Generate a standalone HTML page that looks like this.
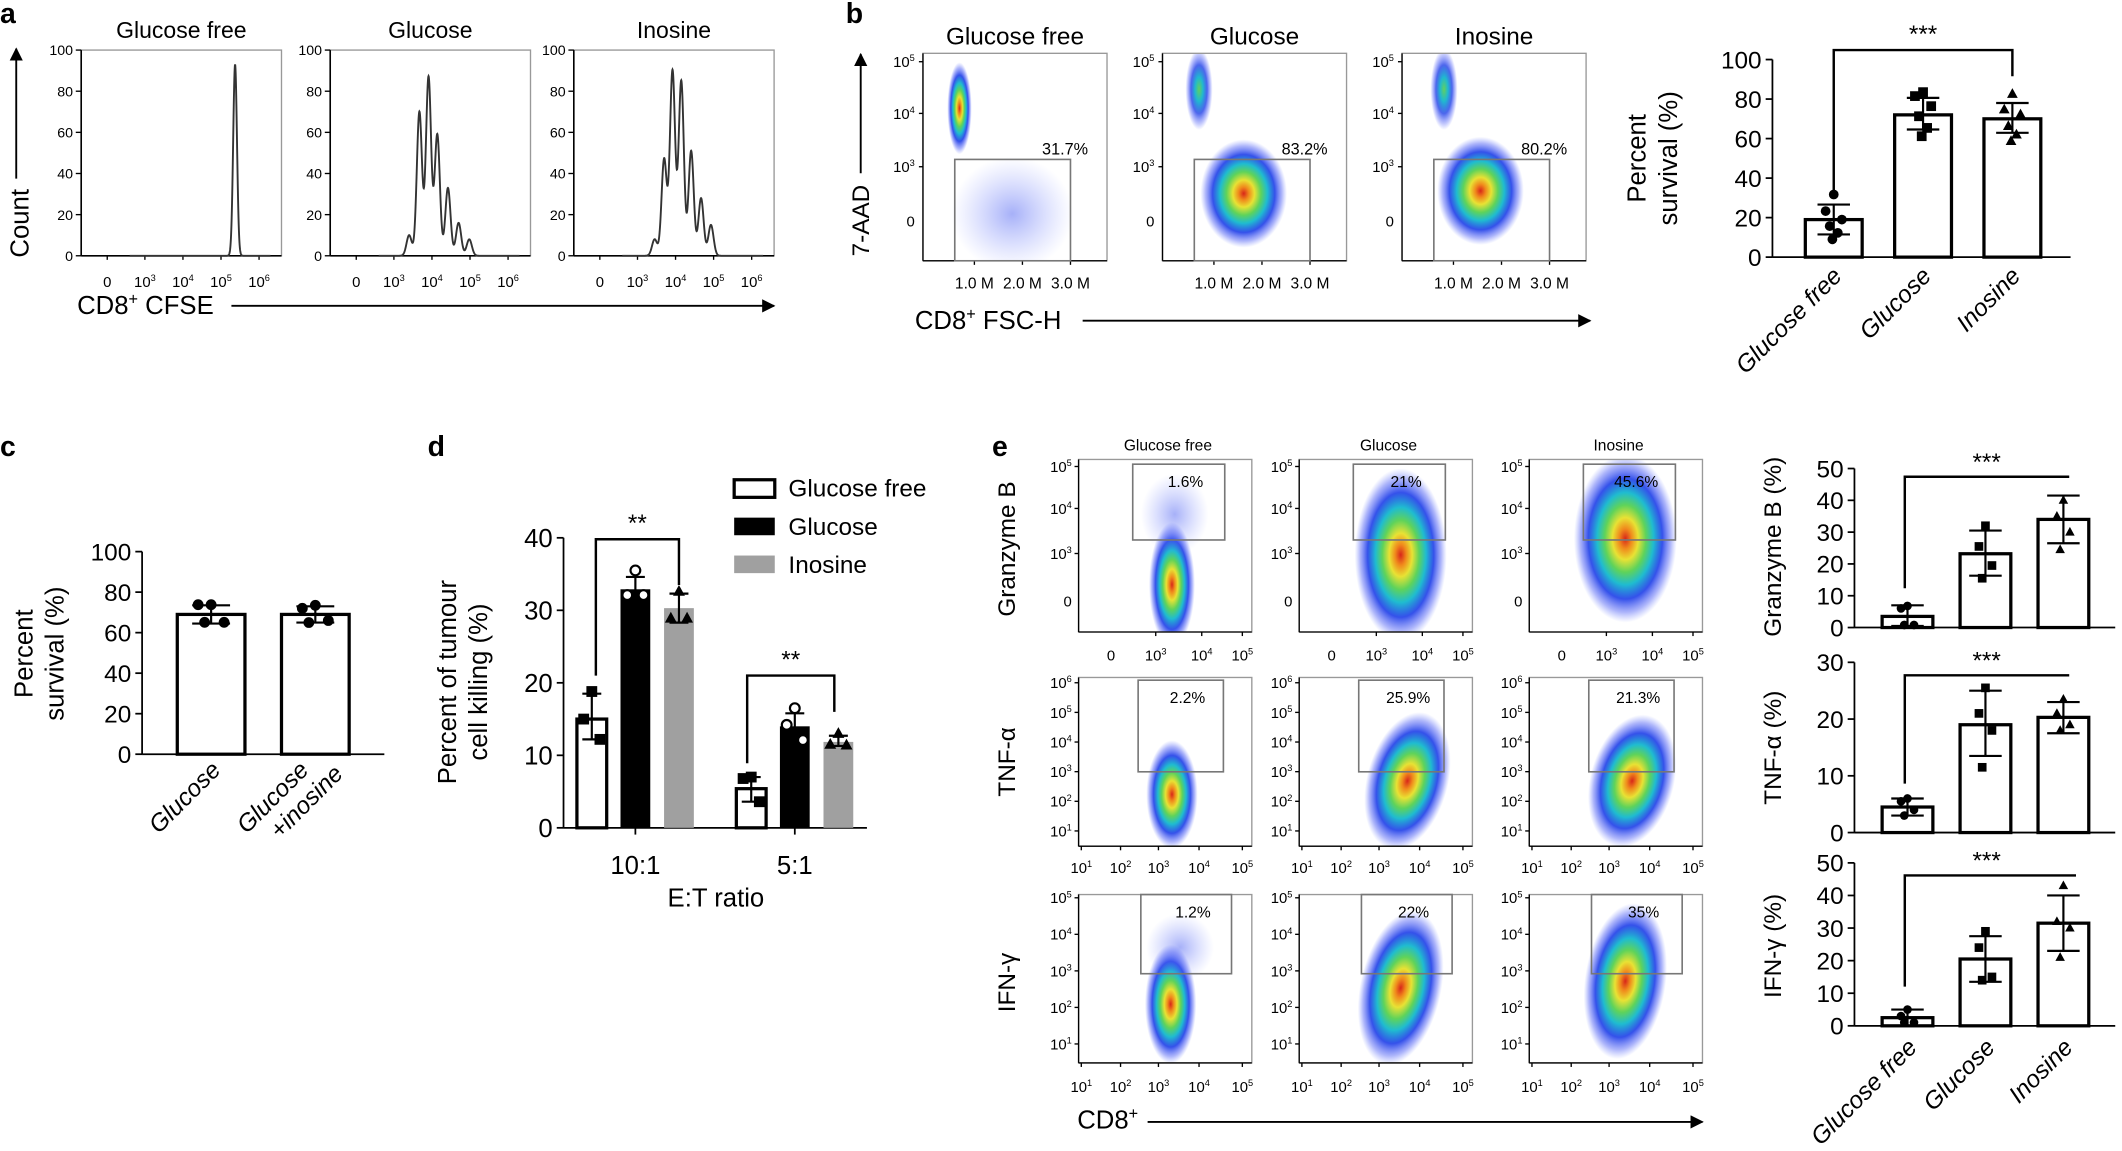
<!DOCTYPE html>
<html><head><meta charset="utf-8"><title>Figure</title>
<style>
html,body{margin:0;padding:0;background:#fff;}
svg{display:block;}
text{font-family:"Liberation Sans",sans-serif;fill:#000;}
</style></head>
<body>
<svg id="fig" xmlns="http://www.w3.org/2000/svg" width="2122" height="1151" viewBox="0 0 1568 850.5" preserveAspectRatio="none">
<defs>
<radialGradient id="heat"><stop offset="0" stop-color="#d8261a"/><stop offset="0.12" stop-color="#f08a1c"/><stop offset="0.25" stop-color="#e8e234"/><stop offset="0.4" stop-color="#5fd35a"/><stop offset="0.55" stop-color="#1fbcd0"/><stop offset="0.72" stop-color="#1e3ee8" stop-opacity="0.9"/><stop offset="0.88" stop-color="#4a5cf5" stop-opacity="0.45"/><stop offset="1" stop-color="#6a7cff" stop-opacity="0"/></radialGradient>
<radialGradient id="cool"><stop offset="0" stop-color="#60d060"/><stop offset="0.3" stop-color="#20b8d0"/><stop offset="0.6" stop-color="#2040e8" stop-opacity="0.8"/><stop offset="0.85" stop-color="#5060f8" stop-opacity="0.35"/><stop offset="1" stop-color="#6070ff" stop-opacity="0"/></radialGradient>
<radialGradient id="haze"><stop offset="0" stop-color="#3a50f0" stop-opacity="0.45"/><stop offset="1" stop-color="#6a7cff" stop-opacity="0"/></radialGradient>
<marker id="arrow" viewBox="0 0 10 10" refX="9" refY="5" markerWidth="7" markerHeight="7" orient="auto"><path d="M0,0 L10,5 L0,10 z" fill="#000"/></marker>
</defs>
</svg>
<script>
// ---------- DATA ----------
const histCats=['Glucose free','Glucose','Inosine'];
const histPeakPos=[[5.37],[3.4,3.67,3.91,4.14,4.42,4.7,4.98],[3.45,3.7,3.92,4.15,4.41,4.67,4.93]];
const histPeakHeight=[[93],[10,70,87,59,33,16,8],[8,47,90,85,51,28,15]];
const histPeakWidth=[0.05,0.068,0.068];
const histYTicks=[0,20,40,60,80,100];
const histXExps=[3,4,5,6];

const fscCats=['Glucose free','Glucose','Inosine'];
const fscGatePct=['31.7%','83.2%','80.2%'];
const fscXTicks=['1.0 M','2.0 M','3.0 M'];

const survCats=['Glucose free','Glucose','Inosine'];
const survMean=[19,72,70];
const survErrLo=[11.5,64.6,62.9];
const survErrHi=[26.6,80.6,78];
const survPts=[[31.7,23.3,19,15.7,12.3,9],[83.5,81.5,76.4,71.3,65.4,61.2],[82.6,74.7,72.2,66.3,62,58.7]];
const survTicks=[0,20,40,60,80,100];

const cCats=['Glucose','Glucose +inosine'];
const cMean=[69,69];
const cErrLo=[64.5,65];
const cErrHi=[73.5,73];
const cPts=[[73.8,73.8,65.1,65.1],[73.5,72,66,65]];
const cTicks=[0,20,40,60,80,100];

const dGroups=['10:1','5:1'];
const dSeries=['Glucose free','Glucose','Inosine'];
const dMean=[[15,32.9,30.3],[5.4,14,11.85]];
const dErrLo=[[12.2,31.2,28.3],[3.6,12.1,11.3]];
const dErrHi=[[18.5,34.6,32.3],[7,15.8,12.7]];
const dPts=[[[18.8,15,12.2],[35.5,32.1,32.1],[32.6,28.9,28.9]],[[7,6.8,3.6],[16.5,14.2,12.1],[13,11.5,11.4]]];
const dTicks=[0,10,20,30,40];

const eCats=['Glucose free','Glucose','Inosine'];
const eRows=['Granzyme B','TNF-α','IFN-γ'];
const eGatePct=[['1.6%','21%','45.6%'],['2.2%','25.9%','21.3%'],['1.2%','22%','35%']];
const eMax=[50,30,50];
const eTicks=[[0,10,20,30,40,50],[0,10,20,30],[0,10,20,30,40,50]];
const eMean=[[3.5,23.2,34],[4.5,19,20.3],[2.5,20.5,31.5]];
const eErrLo=[[0.5,16.3,26.5],[3,13.5,17.5],[0,13.5,23]];
const eErrHi=[[7,30.5,41.5],[6,25,23],[5,27.5,40]];
const ePts=[[[6.8,6,0.8,0.8],[32,25.5,19.5,15.5],[40,35,30,24.5]],[[6,5.5,4,3],[25.5,21,18,11.5],[23.5,21,19,18]],[[5,3,1,1],[29,24,15,14],[43,32,30,21]]];

// ---------- HELPERS ----------
const NS='http://www.w3.org/2000/svg';
const svg=document.getElementById('fig');
function mk(tag,attrs,parent){const e=document.createElementNS(NS,tag);for(const k in attrs)e.setAttribute(k,attrs[k]);(parent||svg).appendChild(e);return e;}
function txt(x,y,s,attrs,parent){const t=mk('text',Object.assign({x:x,y:y},attrs||{}),parent);t.textContent=s;return t;}
function grp(name,parent){const g=mk('g',{},parent);

return g;}
function pow(x,y,e,size,anchor,parent){const t=mk('text',{x:x,y:y,'font-size':size,'text-anchor':anchor||'middle'},parent);t.appendChild(document.createTextNode('10'));const s=mk('tspan',{dy:-size*0.4,'font-size':size*0.62},t);s.textContent=e;return t;}
function line(x1,y1,x2,y2,w,parent,col){return mk('line',{x1:x1,y1:y1,x2:x2,y2:y2,stroke:col||'#000','stroke-width':w},parent);}
function marker(type,x,y,r,parent,fill){let m;const f=fill||'#000';
 if(type==='circle')m=mk('circle',{cx:x,cy:y,r:r,fill:f,stroke:'#000','stroke-width':f==='#fff'?1.6:0},parent);
 else if(type==='square')m=mk('rect',{x:x-r,y:y-r,width:2*r,height:2*r,fill:f},parent);
 else m=mk('path',{d:`M${x},${y-r*1.2} L${x+r*1.1},${y+r*0.8} L${x-r*1.1},${y+r*0.8}Z`,fill:f},parent);
 return m;}
const jit=[0,-6,6,-3,3,-1];
let clipId=0;
function clipRect(L,T,W,H){const c=mk('clipPath',{id:'c'+(++clipId)},svg.querySelector('defs'));mk('rect',{x:L,y:T,width:W,height:H},c);return 'url(#c'+clipId+')';}
function blob(cx,cy,rx,ry,rot,g,parent,op){return mk('ellipse',{cx:cx,cy:cy,rx:rx,ry:ry,fill:'url(#'+g+')',opacity:op||1,transform:`rotate(${rot} ${cx} ${cy})`},parent);}
function rotLabel(x,y,lines,size,parent,gap){const t=mk('text',{transform:`translate(${x},${y}) rotate(-90)`,'text-anchor':'middle','font-size':size},parent);lines.forEach((s,i)=>{const sp=mk('tspan',{x:0,dy:i===0?0:gap},t);sp.textContent=s;});return t;}
function letter(x,y,s){const t=txt(x,y,s,{'font-size':21,'font-weight':'bold'});
}
function arrowLine(x1,y1,x2,y2,name){const l=line(x1,y1,x2,y2,1.4);l.setAttribute('marker-end','url(#arrow)');
}

// generic bar chart
function barChart(g,o){
 const ys=v=>o.y0-(v/o.max)*(o.y0-o.yTop);
 const cx=i=>o.start+i*o.step;
 line(o.ax,o.yTop,o.ax,o.y0,1.3,g);
 line(o.ax,o.y0,o.xEnd,o.y0,1.3,g);
 o.ticks.forEach(t=>{line(o.ax-5,ys(t),o.ax,ys(t),1.3,g);const l=txt(o.ax-8,ys(t),String(t),{'font-size':o.fs,'text-anchor':'end',dy:'0.36em'},g);
 });
 o.means.forEach((m,i)=>{
  const b=mk('rect',{x:cx(i)-o.bw/2,y:ys(m),width:o.bw,height:o.y0-ys(m),fill:'#fff',stroke:'#000','stroke-width':2.4},g);
  
  
  const eb=grp('error-bar',g);
  line(cx(i),ys(o.lo[i]),cx(i),ys(o.hi[i]),1.6,eb);
  line(cx(i)-o.cap,ys(o.lo[i]),cx(i)+o.cap,ys(o.lo[i]),1.6,eb);
  line(cx(i)-o.cap,ys(o.hi[i]),cx(i)+o.cap,ys(o.hi[i]),1.6,eb);
  o.pts[i].forEach((p,k)=>{const mm=marker(o.markers[i],cx(i)+jit[k%6]*o.jw,ys(p),o.mr,g);
  });
 });
 return {ys:ys,cx:cx};
}
function bracket(g,x1,x2,yTop,yL,yR,label,fs){
 const p=mk('path',{d:`M${x1},${yL} L${x1},${yTop} L${x2},${yTop} L${x2},${yR}`,fill:'none',stroke:'#000','stroke-width':1.8},g);
 
 
 const t=txt((x1+x2)/2,yTop-6,label,{'font-size':fs,'text-anchor':'middle'},g);
 
 
}

// ---------- PANEL A ----------
letter(0,17,'a');
const pa=grp('panel-a-cfse-histograms');
const aL=[60,244,424], aW=148, aT=37, aB=189;
const hx=(L,v)=>L+aW*(0.318+(v-3)*0.19);
const hy=c=>aB-(c/100)*(aB-aT);
histCats.forEach((cat,i)=>{
 const L=aL[i];
 const g=grp('histogram-'+cat.toLowerCase().replace(/ /g,'-'),pa);
 const tt=txt(L+aW/2,28,cat,{'font-size':17,'text-anchor':'middle'},g);
 
 
 mk('rect',{x:L,y:aT,width:aW,height:aB-aT,fill:'none',stroke:'#999','stroke-width':1},g);
 line(L,aT,L,aB,1.2,g);line(L,aB,L+aW,aB,1.2,g);
 histYTicks.forEach(t=>{line(L-4,hy(t),L,hy(t),1,g);const l=txt(L-6,hy(t),String(t),{'font-size':10.5,'text-anchor':'end',dy:'0.36em'},g);
 });
 const z=txt(L+aW*0.13,212,'0',{'font-size':11,'text-anchor':'middle'},g);
 
 
 line(L+aW*0.13,aB,L+aW*0.13,aB+3,1,g);
 histXExps.forEach(e=>{line(hx(L,e),aB,hx(L,e),aB+3,1,g);const l=pow(hx(L,e),212,e,11,'middle',g);
 });
 let d='';
 for(let v=2.6;v<=6.3;v+=0.005){
  let c=0;histPeakPos[i].forEach((p,k)=>{c+=histPeakHeight[i][k]*Math.exp(-Math.pow(v-p,2)/(2*histPeakWidth[i]*histPeakWidth[i]));});
  d+=(d?'L':'M')+hx(L,v).toFixed(2)+','+hy(Math.min(c,100)).toFixed(2);
 }
 const path=mk('path',{d:d,fill:'none',stroke:'#333','stroke-width':1.4},g);
 
 
});
const cnt=rotLabel(21,165,['Count'],19,pa,0);


arrowLine(12,132,12,36,'y-axis-arrow');
const cf=txt(57,232,'CD8',{'font-size':19},pa);
const cfs=mk('tspan',{dy:-7,'font-size':12},cf);cfs.textContent='+';
const cfr=mk('tspan',{dy:7},cf);cfr.textContent=' CFSE';


arrowLine(171,226,572,226,'x-axis-arrow');

// ---------- PANEL B FLOW ----------
letter(625,17,'b');
const pb=grp('panel-b-7aad-flow');
const bL=[682,859,1036], bW=136, bT=39.4, bB=192.7;
const bYT=[['5',45.6],['4',83.8],['3',123.2]];
const blobsB=[[[709,80,9,34,0,'heat'],[748,158,45,42,0,'haze']],[[886,66,10,30,0,'cool'],[919,143,32,40,0,'heat']],[[1067,66,10,30,0,'cool'],[1094,141,32,40,0,'heat']]];
fscCats.forEach((cat,i)=>{
 const L=bL[i];
 const g=grp('flow-plot-'+cat.toLowerCase().replace(/ /g,'-'),pb);
 const tt=txt(L+bW/2,33,cat,{'font-size':18,'text-anchor':'middle'},g);
 
 
 const cg=mk('g',{'clip-path':clipRect(L,bT,bW,bB-bT)},g);
 blobsB[i].forEach(b=>blob(b[0],b[1],b[2],b[3],b[4],b[5],cg));
 mk('rect',{x:L,y:bT,width:bW,height:bB-bT,fill:'none',stroke:'#999','stroke-width':1},g);
 line(L,bT,L,bB,1,g);line(L,bB,L+bW,bB,1,g);
 bYT.forEach(t=>{line(L-3,t[1],L,t[1],1,g);const l=pow(L-6,t[1]+4,t[0],11,'end',g);
 });
 const z=txt(L-6,167.5,'0',{'font-size':11,'text-anchor':'end'},g);
 
 
 fscXTicks.forEach((s,k)=>{const x=L+38+k*35.5;line(x,bB,x,bB+3,1,g);const l=txt(x,213,s,{'font-size':11.5,'text-anchor':'middle'},g);
 });
 const gate=mk('rect',{x:L+23.5,y:117.8,width:85.5,height:bB-117.8,fill:'none',stroke:'#777','stroke-width':1.2},g);
 
 
 const pct=txt(L+105,114,fscGatePct[i],{'font-size':12,'text-anchor':'middle'},g);
 
 
});
const aad=rotLabel(642,163,['7-AAD'],18,pb,0);


arrowLine(636,128,636,40,'y-axis-arrow');
const fsc=txt(676,243,'CD8',{'font-size':19},pb);
const fss=mk('tspan',{dy:-7,'font-size':12},fsc);fss.textContent='+';
const fsr=mk('tspan',{dy:7},fsc);fsr.textContent=' FSC-H';


arrowLine(800,237,1175,237,'x-axis-arrow');

// ---------- PANEL B BAR ----------
const pbb=grp('panel-b-survival-bar-chart');
const sb=barChart(pbb,{ax:1309.7,y0:190,yTop:44,max:100,xEnd:1530,ticks:survTicks,fs:18,start:1355,step:66,bw:42,cap:12,cats:survCats,means:survMean,lo:survErrLo,hi:survErrHi,pts:survPts,markers:['circle','square','triangle'],mr:3.6,jw:1});
bracket(pbb,sb.cx(0),sb.cx(2),37,142.5,56.3,'***',18);
const sy=rotLabel(1216,117,['Percent','survival (%)'],19,pbb,23);


survCats.forEach((c,i)=>{const t=txt(0,0,c,{'font-size':18,'text-anchor':'end','font-style':'italic',transform:`translate(${sb.cx(i)+7},${205}) rotate(-45)`},pbb);
});

// ---------- PANEL C ----------
letter(0,337,'c');
const pc=grp('panel-c-survival-bar-chart');
const cb=barChart(pc,{ax:105,y0:557.3,yTop:407.6,max:100,xEnd:284,ticks:cTicks,fs:18,start:156,step:77,bw:50,cap:14,cats:cCats,means:cMean,lo:cErrLo,hi:cErrHi,pts:cPts,markers:['circle','circle','circle','circle'],mr:4,jw:1.6});
const cyl=rotLabel(24,483,['Percent','survival (%)'],19,pc,23);


const cl1=txt(0,0,'Glucose',{'font-size':18,'text-anchor':'end','font-style':'italic',transform:`translate(${cb.cx(0)+8},570) rotate(-45)`},pc);


const cl2=mk('text',{'font-size':18,'text-anchor':'end','font-style':'italic',transform:`translate(${cb.cx(1)-4},570) rotate(-45)`},pc);
const c2a=mk('tspan',{x:0,y:0},cl2);c2a.textContent='Glucose';
const c2b=mk('tspan',{x:16,dy:20},cl2);c2b.textContent='+inosine';



// ---------- PANEL D ----------
letter(316,337,'d');
const pd=grp('panel-d-killing-bar-chart');
const dAx=416.4,dY0=611.7,dYTop=397.4,dMax=40;
const dys=v=>dY0-(v/dMax)*(dY0-dYTop);
const dgx=gi=>469.5+gi*117.8;
const dsx=(gi,si)=>dgx(gi)+(si-1)*32.2;
const dFill=['#fff','#000','#a0a0a0'];
const dMark=['square','circle','triangle'];
line(dAx,dYTop,dAx,dY0,1.3,pd);line(dAx,dY0,640.6,dY0,1.3,pd);
dTicks.forEach(t=>{line(dAx-5,dys(t),dAx,dys(t),1.3,pd);const l=txt(dAx-8,dys(t),String(t),{'font-size':19,'text-anchor':'end',dy:'0.36em'},pd);
});
dGroups.forEach((gname,gi)=>{
 line(dgx(gi),dY0,dgx(gi),dY0+5,1.3,pd);
 const gl=txt(dgx(gi),646,gname,{'font-size':19,'text-anchor':'middle'},pd);
 
 
 dSeries.forEach((s,si)=>{
  const x=dsx(gi,si),m=dMean[gi][si];
  const b=mk('rect',{x:x-11,y:dys(m),width:22,height:dY0-dys(m),fill:dFill[si],stroke:si===0?'#000':'none','stroke-width':2.4},pd);
  
  
  line(x,dys(dErrLo[gi][si]),x,dys(dErrHi[gi][si]),1.6,pd);
  line(x-7,dys(dErrLo[gi][si]),x+7,dys(dErrLo[gi][si]),1.6,pd);
  line(x-7,dys(dErrHi[gi][si]),x+7,dys(dErrHi[gi][si]),1.6,pd);
  dPts[gi][si].forEach((p,k)=>{const mm=marker(dMark[si],x+[0,-6,6][k],dys(p),si===1?3.6:4,pd,si===1?'#fff':'#000');
  });
 });
});
bracket(pd,dsx(0,0)+3,dsx(0,2),dys(39.8),dys(21),dys(33.5),'**',18);
bracket(pd,dsx(1,0)-3,dsx(1,2)-3,dys(21),dys(8.9),dys(16),'**',18);
const dyl=rotLabel(337,504,['Percent of tumour','cell killing (%)'],19,pd,23);


const et=txt(529,670,'E:T ratio',{'font-size':19,'text-anchor':'middle'},pd);


dSeries.forEach((s,si)=>{
 const lg=grp('legend-entry-'+s.toLowerCase().replace(/ /g,'-'),pd);
 mk('rect',{x:542.5,y:354.5+si*28,width:30,height:13,fill:dFill[si],stroke:si===0?'#000':'none','stroke-width':2.4},lg);
 txt(582.6,367+si*28.2,s,{'font-size':18},lg);
});

// ---------- PANEL E FLOW ----------
letter(733,337,'e');
const pe=grp('panel-e-intracellular-flow');
const eL=[797,960,1130], eW=128;
const eRowT=[339.5,500.6,661], eRowB=[467,625.3,785.4], eLab=[484,641,803];
const eGateX=[[40,108],[44,107],[46,113]];
const eGateY=[[343,399],[502.6,570.3],[661,719.5]];
const eYT=[[['5',344.7],['4',375.7],['3',409]],[['6',504.5],['5',526.4],['4',548.3],['3',570.2],['2',592.1],['1',614]],[['5',663.4],['4',690.4],['3',717.4],['2',744.4],['1',771.4]]];
const eBlobs=[
 [[[866,432,17,46,0,'heat'],[868,380,25,30,0,'haze']],[[1035,410,34,64,0,'heat']],[[1201,398,38,62,0,'heat']]],
 [[[866,587,19,40,0,'heat']],[[1040,577,30,52,15,'heat']],[[1206,577,31,50,15,'heat']]],
 [[[865,742,19,44,0,'heat'],[872,700,25,25,0,'haze']],[[1035,730,30,58,12,'heat']],[[1201,725,30,58,8,'heat']]]
];
eCats.forEach((c,i)=>{const t=txt(eL[i]+66,333,c,{'font-size':11.5,'text-anchor':'middle'},pe);
});
eRows.forEach((r,ri)=>{
 const rl=rotLabel(750,[405.7,563,726][ri],[r],18,pe,0);
 
 
 eCats.forEach((c,i)=>{
  const L=eL[i],T=eRowT[ri],B=eRowB[ri];
  const g=grp('flow-plot-'+r.toLowerCase().replace(/[^a-z]+/g,'-')+'-'+c.toLowerCase().replace(/ /g,'-'),pe);
  const cg=mk('g',{'clip-path':clipRect(L,T,eW,B-T)},g);
  eBlobs[ri][i].forEach(b=>blob(b[0],b[1],b[2],b[3],b[4],b[5],cg));
  mk('rect',{x:L,y:T,width:eW,height:B-T,fill:'none',stroke:'#999','stroke-width':1},g);
  line(L,T,L,B,1,g);line(L,B,L+eW,B,1,g);
  eYT[ri].forEach(t=>{line(L-3,t[1],L,t[1],1,g);const l=pow(L-5,t[1]+4,t[0],11,'end',g);
  });
  if(ri===0){const z=txt(L-5,448,'0',{'font-size':11,'text-anchor':'end'},g);
   
   const zx=txt(L+24,eLab[ri]+4,'0',{'font-size':11,'text-anchor':'middle'},g);
   
   [['3',57],['4',91],['5',121]].forEach(p=>{line(L+p[1],B,L+p[1],B+3,1,g);const l=pow(L+p[1],eLab[ri]+4,p[0],11,'middle',g);
   });
  } else {
   [['1',2],['2',31],['3',59],['4',89],['5',121]].forEach(p=>{line(L+p[1],B,L+p[1],B+3,1,g);const l=pow(L+p[1],eLab[ri]+4,p[0],11,'middle',g);
   });
  }
  const gx=eGateX[ri],gy=eGateY[ri];
  const gate=mk('rect',{x:L+gx[0],y:gy[0],width:gx[1]-gx[0],height:gy[1]-gy[0],fill:'none',stroke:'#777','stroke-width':1.2},g);
  
  
  const pct=txt(L+(gx[0]+gx[1])/2+5,gy[0]+17,eGatePct[ri][i],{'font-size':11.5,'text-anchor':'middle'},g);
  
  
 });
});
const e8=txt(796,834,'CD8',{'font-size':19},pe);
const e8s=mk('tspan',{dy:-7,'font-size':12},e8);e8s.textContent='+';


arrowLine(848,829,1258,829,'x-axis-arrow');

// ---------- PANEL E BARS ----------
const eY0=[463.7,615.2,758], eYTop=[346.2,489.4,637.6];
const eBrY=[[352.3,434.7],[499,579],[646.9,729]];
const eBrX2=[1529,1529,1534];
eRows.forEach((r,ri)=>{
 const g=grp('bar-chart-'+r.toLowerCase().replace(/[^a-z]+/g,'-'),pe);
 const bc=barChart(g,{ax:1370.3,y0:eY0[ri],yTop:eYTop[ri],max:eMax[ri],xEnd:1563,ticks:eTicks[ri],fs:18,start:1409.5,step:57.6,bw:37.5,cap:12,cats:eCats,means:eMean[ri],lo:eErrLo[ri],hi:eErrHi[ri],pts:ePts[ri],markers:['circle','square','triangle'],mr:3.2,jw:0.8});
 const p=mk('path',{d:`M${bc.cx(0)-2},${eBrY[ri][1]} L${bc.cx(0)-2},${eBrY[ri][0]} L${eBrX2[ri]},${eBrY[ri][0]}`,fill:'none',stroke:'#000','stroke-width':1.8},g);
 
 
 const st=txt(1468,eBrY[ri][0]-5,'***',{'font-size':18,'text-anchor':'middle'},g);
 
 
 const yl=rotLabel(1316,[404,552.5,699][ri],[r+' (%)'],18,g,0);
 
 
 if(ri===2){eCats.forEach((c,i)=>{const t=txt(0,0,c,{'font-size':18,'text-anchor':'end','font-style':'italic',transform:`translate(${bc.cx(i)+8},${775}) rotate(-45)`},g);
 });}
});
</script>
</body></html>
